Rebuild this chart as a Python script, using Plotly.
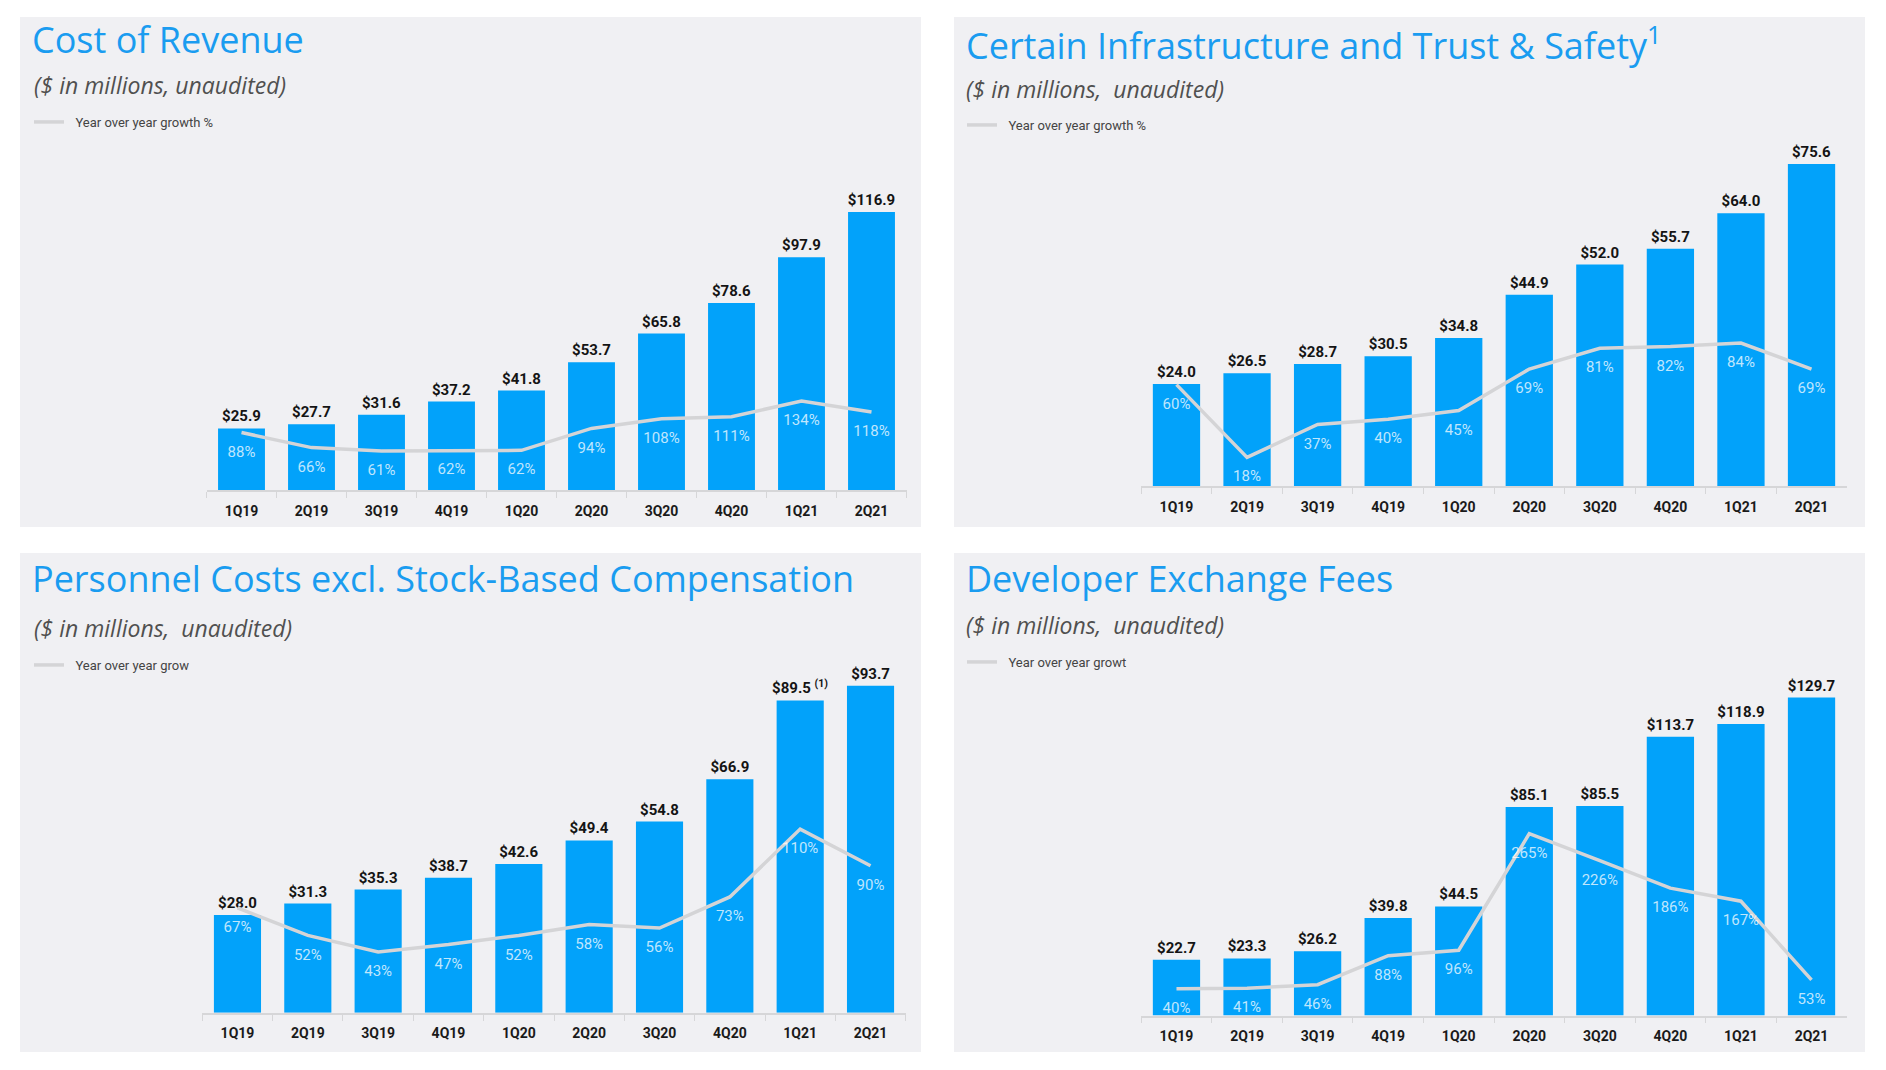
import plotly.graph_objects as go
from plotly.subplots import make_subplots

# page body adds an 8px margin, so the figure is drawn 8px in from the window corner
OFF = 8
W, H = 1878, 1062

quarters = ["1Q19", "2Q19", "3Q19", "4Q19", "1Q20", "2Q20", "3Q20", "4Q20", "1Q21", "2Q21"]

cost_revenue = [25.9, 27.7, 31.6, 37.2, 41.8, 53.7, 65.8, 78.6, 97.9, 116.9]
cost_revenue_yoy = [88, 66, 61, 62, 62, 94, 108, 111, 134, 118]

infra_trust = [24.0, 26.5, 28.7, 30.5, 34.8, 44.9, 52.0, 55.7, 64.0, 75.6]
infra_trust_yoy = [60, 18, 37, 40, 45, 69, 81, 82, 84, 69]

personnel = [28.0, 31.3, 35.3, 38.7, 42.6, 49.4, 54.8, 66.9, 89.5, 93.7]
personnel_yoy = [67, 52, 43, 47, 52, 58, 56, 73, 110, 90]
personnel_note = {"1Q21": "(1)"}

devex = [22.7, 23.3, 26.2, 39.8, 44.5, 85.1, 85.5, 113.7, 118.9, 129.7]
devex_yoy = [40, 41, 46, 88, 96, 265, 226, 186, 167, 53]

BLUE = "#02a2fa"
TITLE_BLUE = "#1a9cf0"
PANEL_BG = "#f0f0f3"
LINE_GREY = "#d4d4d6"


def fx(px):
    return (px - OFF) / W


def fy(py):
    return 1 - (py - OFF) / H


# panel layout in window pixels: box, plot area (x0, x1, top, bottom), axis ranges
panels = [
    dict(row=1, col=1, title="Cost of Revenue", sub="($ in millions, unaudited)",
         legend_name="Year over year growth %", vals=cost_revenue, yoy=cost_revenue_yoy, notes={},
         box=(20, 921, 17, 527), plot=(206.5, 906.5, 140, 490),
         yr=[0, 147.2], y2r=[4.1, 515.1],
         title_xy=(30, 40), sub_xy=(32, 85), leg_xy=(34, 122)),
    dict(row=1, col=2, title="Certain Infrastructure and Trust & Safety<sup>1</sup>",
         sub="($ in millions,\u00a0 unaudited)",
         legend_name="Year over year growth %", vals=infra_trust, yoy=infra_trust_yoy, notes={},
         box=(954, 1865, 17, 527), plot=(1141.2, 1846.8, 140, 486.3),
         yr=[0, 81.2], y2r=[1.3, 201.2],
         title_xy=(964, 43), sub_xy=(964, 89), leg_xy=(967, 125)),
    dict(row=2, col=1, title="Personnel Costs excl. Stock-Based Compensation",
         sub="($ in millions,\u00a0 unaudited)",
         legend_name="Year over year grow", vals=personnel, yoy=personnel_yoy, notes=personnel_note,
         box=(20, 921, 553, 1052), plot=(202.3, 905.7, 676, 1012.8),
         yr=[0, 96.5], y2r=[9.8, 193.5],
         title_xy=(30, 578), sub_xy=(32, 628), leg_xy=(34, 665)),
    dict(row=2, col=2, title="Developer Exchange Fees", sub="($ in millions,\u00a0 unaudited)",
         legend_name="Year over year growt", vals=devex, yoy=devex_yoy, notes={},
         box=(954, 1865, 553, 1052), plot=(1141.2, 1846.8, 676, 1015.5),
         yr=[0, 138.5], y2r=[1.4, 493.4],
         title_xy=(964, 578), sub_xy=(964, 625), leg_xy=(967, 662)),
]

fig = make_subplots(rows=2, cols=2, specs=[[{"secondary_y": True}] * 2] * 2)

shapes = []
annotations = []
legends = {}

for i, p in enumerate(panels):
    r, c = p["row"], p["col"]
    leg_id = "legend" if i == 0 else f"legend{i + 1}"

    labels = []
    for q, v in zip(quarters, p["vals"]):
        t = f"${v:.1f}"
        if q in p["notes"]:
            t += f" <sup>{p['notes'][q]}</sup>"
        labels.append(t)

    fig.add_trace(go.Bar(
        x=quarters, y=p["vals"], text=labels, textposition="outside",
        textangle=0, constraintext="none", cliponaxis=False,
        textfont=dict(family="Roboto", size=15, color="#141414", weight="bold"),
        marker=dict(color=BLUE, line=dict(width=0)),
        showlegend=False, hoverinfo="skip",
    ), row=r, col=c, secondary_y=False)

    # invisible markers only push the % labels down below the line
    fig.add_trace(go.Scatter(
        x=quarters, y=p["yoy"], mode="lines+markers+text",
        text=[f"{v}%" for v in p["yoy"]], textposition="bottom center",
        textfont=dict(family="Roboto", size=15, color="rgba(255,255,255,0.75)"),
        line=dict(color=LINE_GREY, width=3.5),
        marker=dict(size=19, color="rgba(0,0,0,0)"),
        cliponaxis=False, name="\u00a0\u00a0" + p["legend_name"], legend=leg_id,
        showlegend=True, hoverinfo="skip",
    ), row=r, col=c, secondary_y=True)

    x0, x1, top, bot = p["plot"]
    fig.update_xaxes(row=r, col=c, domain=[fx(x0), fx(x1)], range=[-0.5, 9.5],
                     showline=True, linecolor="#d6d6d8", linewidth=1.5,
                     ticks="outside", ticklen=6, tickcolor="#d6d6d8", tickson="boundaries",
                     showgrid=False, ticklabelstandoff=7,
                     tickfont=dict(family="Roboto", size=14, color="#1a1a1a", weight="bold"))
    ydom = [fy(bot), fy(top)]
    fig.update_yaxes(row=r, col=c, secondary_y=False, domain=ydom, range=p["yr"], visible=False)
    fig.update_yaxes(row=r, col=c, secondary_y=True, domain=ydom, range=p["y2r"], visible=False)

    bx0, bx1, by0, by1 = p["box"]
    shapes.append(dict(type="rect", xref="paper", yref="paper", layer="below",
                       x0=fx(bx0), x1=fx(bx1), y0=fy(by1), y1=fy(by0),
                       fillcolor=PANEL_BG, line=dict(width=0)))

    tx, ty = p["title_xy"]
    annotations.append(dict(text=p["title"], xref="paper", yref="paper", x=fx(tx), y=fy(ty),
                            xanchor="left", yanchor="middle", showarrow=False,
                            font=dict(family="Open Sans", size=36, color=TITLE_BLUE)))
    sx, sy = p["sub_xy"]
    annotations.append(dict(text=f"<i>{p['sub']}</i>", xref="paper", yref="paper", x=fx(sx), y=fy(sy),
                            xanchor="left", yanchor="middle", showarrow=False,
                            font=dict(family="Open Sans", size=23, color="#505050")))

    lx, ly = p["leg_xy"]
    legends[leg_id] = dict(x=fx(lx - 5), y=fy(ly), xanchor="left", yanchor="middle",
                           bgcolor="rgba(0,0,0,0)", borderwidth=0, itemwidth=30,
                           font=dict(family="Roboto", size=13, color="#444444"))

fig.update_layout(
    width=W, height=H,
    margin=dict(l=0, r=0, t=0, b=0),
    paper_bgcolor="white", plot_bgcolor="rgba(0,0,0,0)",
    bargap=0.33, shapes=shapes, annotations=annotations,
    **legends,
)

fig.write_html("out.html")
